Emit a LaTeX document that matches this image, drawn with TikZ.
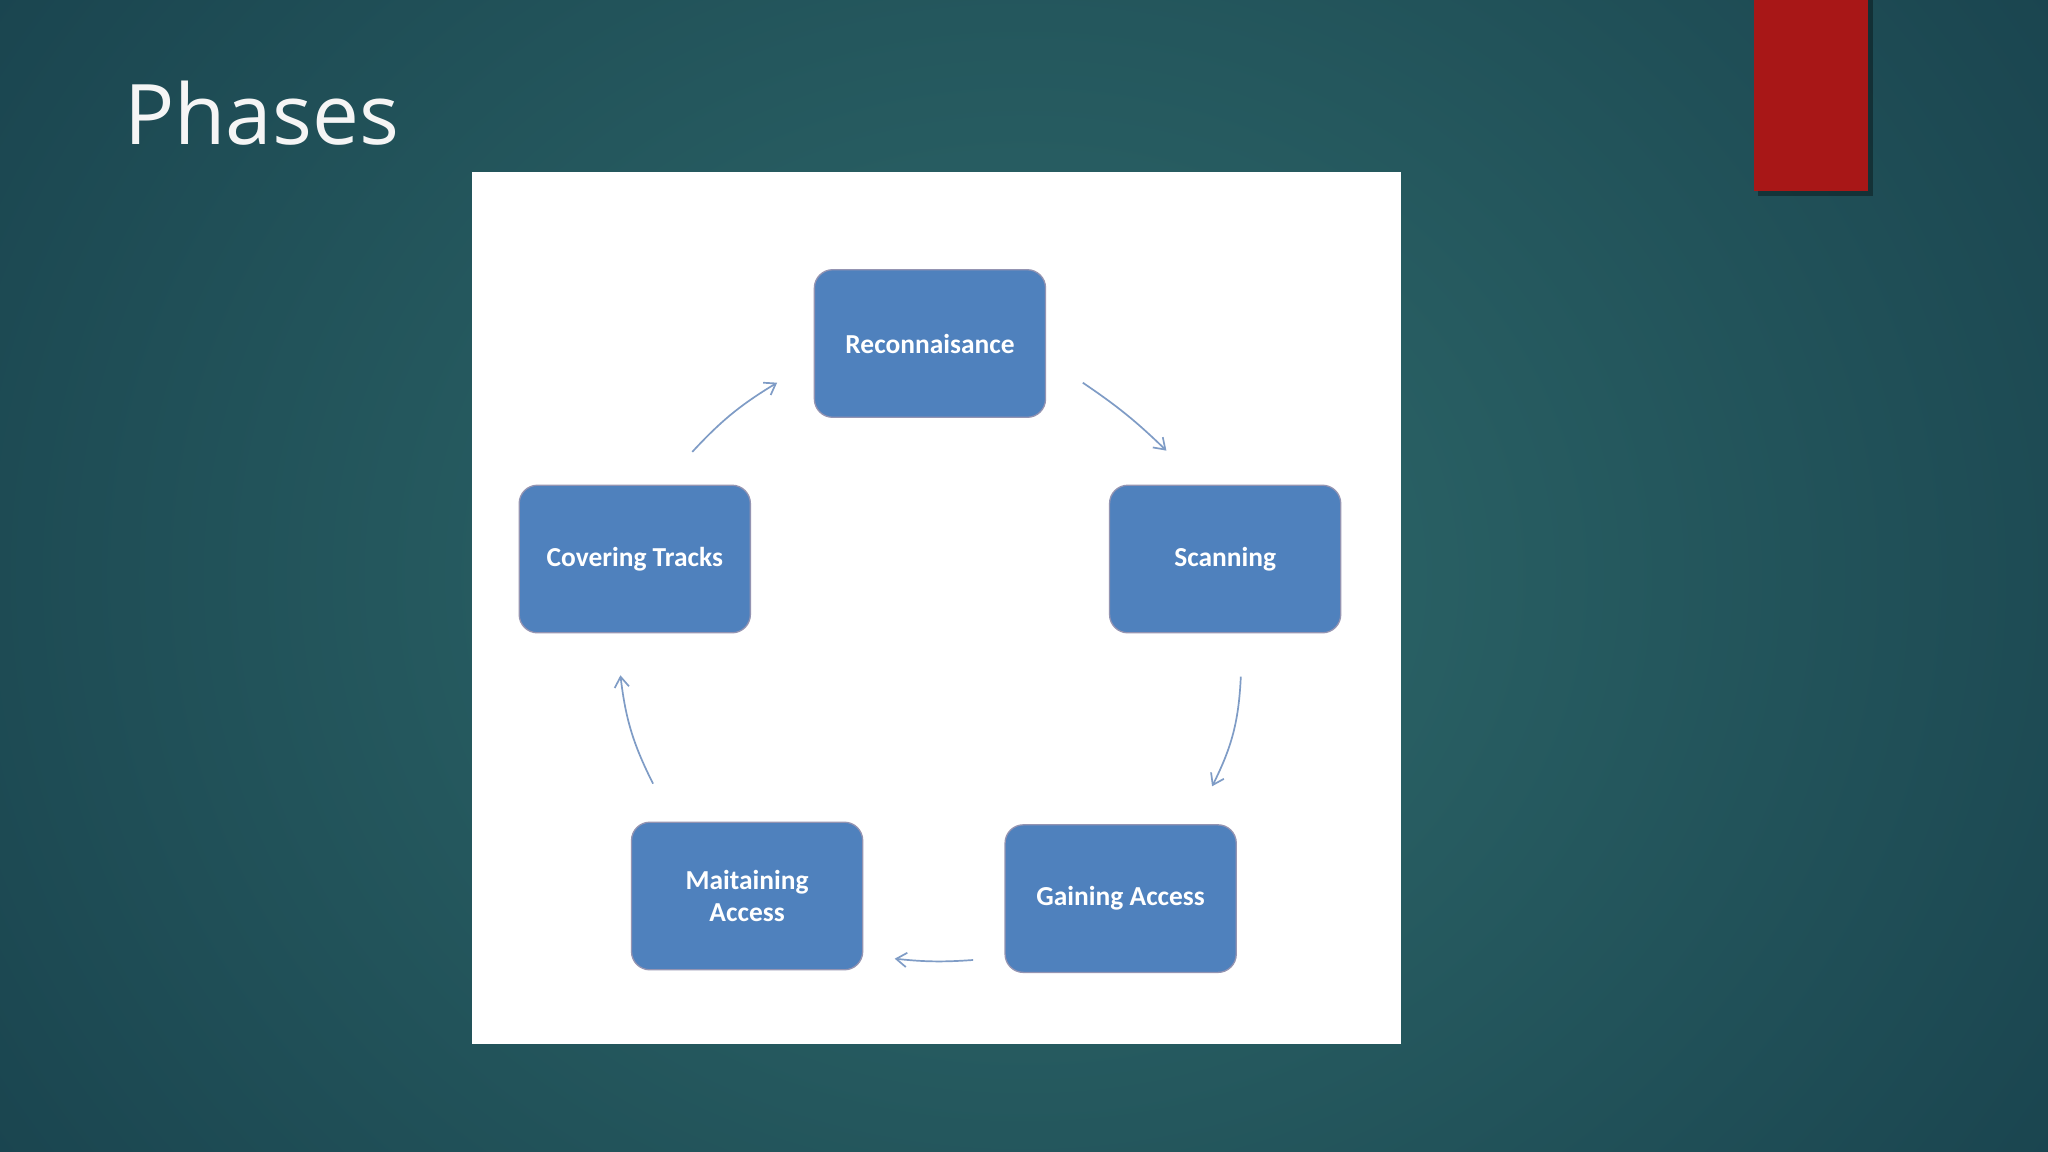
\documentclass[tikz,border=0pt]{standalone}
\usepackage{fontspec}
\setmainfont{Carlito}
\newfontfamily\titlefont{Open Sans}
\begin{document}
\begin{tikzpicture}[x=1pt,y=-1pt,
  phase/.style={draw=white!70!blue!40!gray,line width=1pt,fill=boxblue,rounded corners=14pt,minimum width=177pt,minimum height=113pt,text=white,font=\bfseries\fontsize{21}{25}\selectfont,align=center,anchor=north west},
  flow/.style={draw=arrowblue,line width=1.3pt,-{Straight Barb[length=8pt,width=11pt]}}]
\usetikzlibrary{arrows.meta,shadows}
\definecolor{boxblue}{HTML}{4F81BD}
\definecolor{arrowblue}{HTML}{7F9CC6}
\definecolor{bgedge}{HTML}{173F4B}
\definecolor{bgmid}{HTML}{2F6B6C}
\definecolor{redbar}{HTML}{A81717}
\useasboundingbox (0,0) rectangle (1568,882);
\shade[inner color=bgmid,outer color=bgedge] (-300,-500) rectangle (1868,1382);
\node[anchor=base west,text=white!92!gray,font=\titlefont\fontsize{64}{74}\selectfont,inner sep=0] (title) at (95,111) {Phases};
\fill[black,opacity=0.35] (1346,0) rectangle (1434,150);
\fill[redbar] (1343,0) rectangle (1430,146);
\fill[white] (361,132) rectangle (1073,799);
\node[phase] (rec) at (623,206) {Reconnaisance};
\node[phase] (scan) at (849,371) {Scanning};
\node[phase] (gain) at (769,631) {Gaining Access};
\node[phase] (main) at (483,629) {Maitaining\\Access};
\node[phase] (cov) at (397,371) {Covering Tracks};
\coordinate (a1) at (829,293); \coordinate (b1) at (893,345);
\coordinate (a2) at (950,518); \coordinate (b2) at (928,602);
\coordinate (a3) at (745,735); \coordinate (b3) at (685,734);
\coordinate (a4) at (500,600); \coordinate (b4) at (475,517);
\coordinate (a5) at (530,346); \coordinate (b5) at (595,293);
\draw[flow] (a1) to[bend left=5] (b1);
\draw[flow] (a2) to[bend left=12] (b2);
\draw[flow] (a3) to[bend left=5] (b3);
\draw[flow] (a4) to[bend left=10] (b4);
\draw[flow] (a5) to[bend left=8] (b5);
\end{tikzpicture}
\end{document}
